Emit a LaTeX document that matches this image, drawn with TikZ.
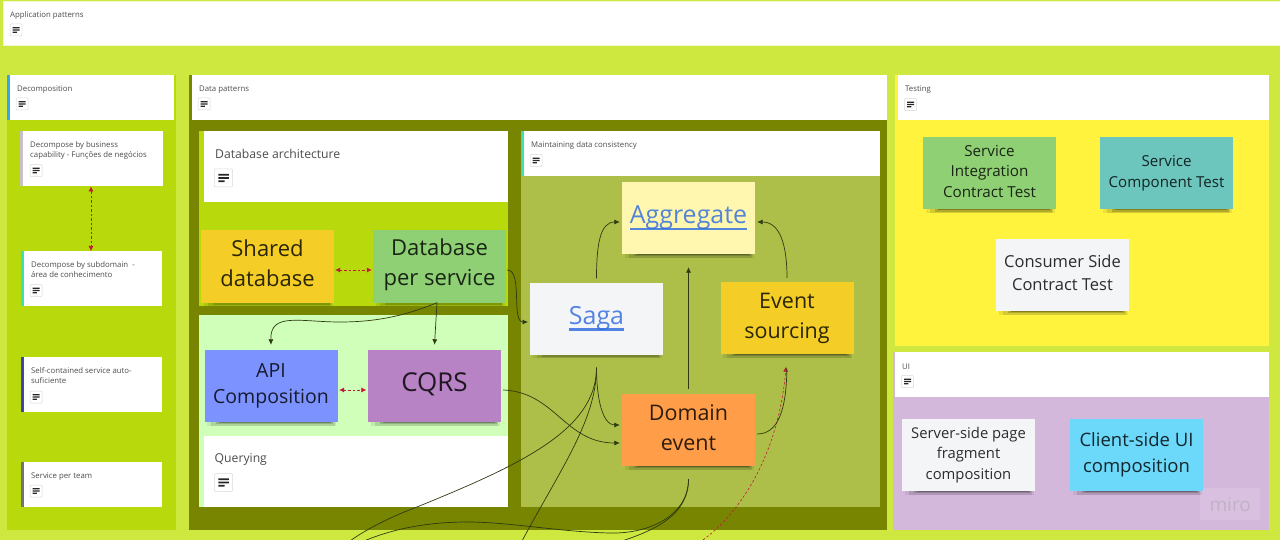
\documentclass[tikz,border=0pt]{standalone}
\usepackage{fontspec}
\setmainfont{Open Sans}
\usetikzlibrary{positioning,shadows,arrows.meta}
\definecolor{boardgreen}{HTML}{CFE83F}
\definecolor{limepanel}{HTML}{B8D90C}
\definecolor{olivepanel}{HTML}{788500}
\definecolor{mosspanel}{HTML}{ADBF48}
\definecolor{mintpanel}{HTML}{CFFFB8}
\definecolor{yellowpanel}{HTML}{FFF33D}
\definecolor{lilacpanel}{HTML}{D4B8DC}
\definecolor{notegold}{HTML}{F4CE26}
\definecolor{notegreen}{HTML}{8FD074}
\definecolor{noteblue}{HTML}{7C93FF}
\definecolor{notepurple}{HTML}{B883C4}
\definecolor{notecream}{HTML}{FFF6B0}
\definecolor{notewhite}{HTML}{F4F5F7}
\definecolor{noteorange}{HTML}{FF9D48}
\definecolor{noteteal}{HTML}{6CC6BE}
\definecolor{notesky}{HTML}{6CD8FA}
\definecolor{linkblue}{HTML}{2F6BE0}
\definecolor{dashred}{HTML}{C2183C}
\definecolor{flowdark}{HTML}{2E3A12}
\definecolor{stripeblue}{HTML}{3AA7E0}
\definecolor{stripemint}{HTML}{3FE0B0}
\definecolor{stripelilac}{HTML}{C9BFC9}
\definecolor{stripenavy}{HTML}{3E46A8}
\newcommand\fsz[2]{\fontsize{#1}{#2}\selectfont}
\newcommand\linktext[1]{\textcolor{linkblue}{\setbox0\hbox{#1}\rlap{\rule[-6pt]{\wd0}{2.2pt}}\box0}}
\tikzset{
  panel/.style={anchor=north west,inner sep=0pt,fill=#1},
  card/.style={anchor=north west,inner sep=0pt,fill=white,path picture={
    \fill[#1] (path picture bounding box.north west) rectangle ([xshift=3pt]path picture bounding box.south west);}},
  title/.style={anchor=west,inner sep=0pt,yshift=-1.5pt,align=left,text=black!70,font=\fsz{7.8}{10}},
  bigtitle/.style={anchor=west,inner sep=0pt,yshift=-1pt,text=black!70,font=\fsz{12.2}{15}},
  softshadow/.style={
    general shadow={fill=black,opacity=.07,shadow scale=.97,shadow xshift=1pt,shadow yshift=-5pt},
    general shadow={fill=black,opacity=.1,shadow scale=.93,shadow xshift=2pt,shadow yshift=-6.5pt},
    general shadow={fill=black,opacity=.16,shadow scale=.88,shadow xshift=4pt,shadow yshift=-7.5pt},
    general shadow={fill=black,opacity=.25,shadow scale=.84,shadow xshift=5pt,shadow yshift=-8pt}},
  sticky/.style={fill=#1,inner sep=0pt,align=center,minimum width=133pt,minimum height=72pt,text=black,text opacity=.82,softshadow},
  flow/.style={draw=flowdark,line width=.7pt,-{Latex[length=5.5pt,width=5pt]}},
  loose/.style={draw=flowdark,line width=.7pt},
  either/.style={draw=dashred,line width=.6pt,dash pattern=on 2.5pt off 2pt,{Latex[length=5pt,width=5pt]}-{Latex[length=5pt,width=5pt]}},
  pics/docicon/.style={code={
    \draw[black!15,fill=white,rounded corners=1pt,line width=.5pt] (-6,-6) rectangle (6,6);
    \fill[black!85] (-3.5,-2.8) rectangle (3.5,-1.6) (-3.5,-.6) rectangle (3.5,.6) (-3.5,1.6) rectangle (.8,2.8);}}
}
\begin{document}
\begin{tikzpicture}[x=1pt,y=-1pt]
\useasboundingbox (0,0) rectangle (1280,540);
\fill[boardgreen] (0,0) rectangle (1280,540);
% top strip
\node[panel=white,draw=boardgreen!25,line width=.6pt,minimum width=1280pt,minimum height=44pt] (apphead) at (3,1) {};
\node[title] (apptitle) at (10,13.5) {Application patterns};
\pic at (16,30) {docicon};
% decomposition
\node[panel=limepanel,minimum width=169pt,minimum height=455pt] (decpanel) at (7,75) {};
\node[card=stripeblue,minimum width=167pt,minimum height=45pt] (dechead) at (7,75) {};
\node[title] (dectitle) at (17,88.5) {Decomposition};
\pic at (22,104) {docicon};
\node[card=stripelilac,minimum width=143pt,minimum height=55pt] (bizcard) at (20,131) {};
\node[title] (biztitle) at (30,149) {Decompose by business\\capability - Funções de negócios};
\pic at (36,170.5) {docicon};
\node[card=stripemint,minimum width=141pt,minimum height=55pt] (subcard) at (21,251) {};
\node[title] (subtitle) at (31,268.5) {Decompose by subdomain \ -\\área de conhecimento};
\pic at (36,290.5) {docicon};
\node[card=stripenavy,minimum width=141pt,minimum height=55pt] (selfcard) at (21,357) {};
\node[title] (selftitle) at (31,374.5) {Self-contained service auto-\\suficiente};
\pic at (36,397) {docicon};
\node[card=black!55,minimum width=141pt,minimum height=45pt] (teamcard) at (21,462) {};
\node[title] (teamtitle) at (31,475.5) {Service per team};
\pic at (36,491) {docicon};
% data patterns
\node[panel=olivepanel,minimum width=698pt,minimum height=455pt] (datapanel) at (189,75) {};
\node[panel=white,minimum width=695pt,minimum height=45pt] (datahead) at (192,75) {};
\node[title] (datatitle) at (199,88.5) {Data patterns};
\pic at (204,104) {docicon};
\node[panel=limepanel,minimum width=309pt,minimum height=175pt] (archpanel) at (199,131) {};
\node[panel=white,minimum width=304pt,minimum height=71pt] (archhead) at (204,131) {};
\node[bigtitle] (archtitle) at (215,152.5) {Database architecture};
\pic[scale=1.5] at (223.5,178) {docicon};
\node[panel=mintpanel,minimum width=309pt,minimum height=192pt] (querypanel) at (199,315) {};
\node[panel=white,minimum width=304pt,minimum height=71pt] (queryhead) at (204,436) {};
\node[bigtitle] (querytitle) at (214.5,458) {Querying};
\pic[scale=1.5] at (223.5,482.5) {docicon};
\node[panel=mosspanel,minimum width=359pt,minimum height=376pt] (conspanel) at (521,131) {};
\node[card=stripemint,minimum width=359pt,minimum height=45pt] (conshead) at (521,131) {};
\node[title] (constitle) at (531,144) {Maintaining data consistency};
\pic at (536,160.5) {docicon};
% testing and ui
\node[panel=yellowpanel,minimum width=374pt,minimum height=271pt] (testpanel) at (895,75) {};
\node[panel=white,minimum width=371pt,minimum height=45pt] (testhead) at (898,75) {};
\node[title] (testtitle) at (905,88.5) {Testing};
\pic at (910.5,104.5) {docicon};
\node[panel=lilacpanel,minimum width=376pt,minimum height=178pt] (uipanel) at (893,352) {};
\node[panel=white,minimum width=374pt,minimum height=45pt] (uihead) at (895,352) {};
\node[title] (uititle) at (902,365.5) {UI};
\pic at (907.5,381.5) {docicon};
\node[anchor=north west,inner sep=0pt,fill=white,fill opacity=.12,text opacity=.5,text=black!35,minimum width=60pt,minimum height=32pt,font=\fsz{19}{22}] (miromark) at (1200,488) {miro};
% notes
\node[sticky=notegold,font=\fsz{22}{30},text depth=6pt] (shareddb) at (267.5,266.5) {Shared\\database};
\node[sticky=notegreen,font=\fsz{22}{30},text depth=8.5pt] (perservice) at (439.5,266.5) {Database\\per service};
\node[sticky=noteblue,font=\fsz{19.5}{26}] (apicomp) at (271,386) {API\\Composition};
\node[sticky=notepurple,font=\fsz{26}{30},text depth=8pt] (cqrs) at (434.5,386) {CQRS};
\node[sticky=notecream,font=\fsz{25}{30}] (aggregate) at (688.5,218) {\linktext{Aggregate}};
\node[sticky=notewhite,font=\fsz{25}{30}] (saga) at (596.5,318.5) {\linktext{Saga}};
\node[sticky=notegold,font=\fsz{21.5}{30}] (eventsrc) at (787,318) {Event\\sourcing};
\node[sticky=noteorange,font=\fsz{21.5}{30},text depth=4pt] (domevent) at (688.5,430) {Domain\\event};
\node[sticky=notegreen,font=\fsz{15.2}{20.5},text depth=5pt] (integration) at (989.5,173.5) {Service\\Integration\\Contract Test};
\node[sticky=noteteal,font=\fsz{15.1}{20.5}] (component) at (1166.5,173.5) {Service\\Component Test};
\node[sticky=notewhite,font=\fsz{16.5}{23},text depth=4pt] (consumer) at (1062.5,275) {Consumer Side\\Contract Test};
\node[sticky=notewhite,font=\fsz{14.8}{20.5}] (serverside) at (968.5,455) {Server-side page\\fragment\\composition};
\node[sticky=notesky,font=\fsz{18.5}{26}] (clientside) at (1136.5,455) {Client-side UI\\composition};
% free ends below the picture
\coordinate (offa) at (350,541);
\coordinate (offb) at (522,541);
\coordinate (offc) at (364,541);
\coordinate (offd) at (622,541);
\coordinate (offe) at (703,540);
% dashed links
\draw[either] (bizcard.south -| 91,0) -- (subcard.north -| 91,0);
\draw[either] ([xshift=1pt,yshift=-3.5pt]shareddb.east) -- ([xshift=-1pt,yshift=-3.5pt]perservice.west);
\draw[either] ([xshift=1.5pt,yshift=-4pt]apicomp.east) -- ([xshift=-1.5pt,yshift=-4pt]cqrs.west);
\draw[draw=dashred,line width=.6pt,dash pattern=on 2.5pt off 2pt,-{Latex[length=5pt,width=5pt]},shorten >=12.5pt] (offe) .. controls (750,505) and (780,440) .. (eventsrc.south);
% flows
\draw[flow,shorten <=1pt] ([yshift=-3.5pt]perservice.east) .. controls (523,270) and (511,322) .. (528,322);
\draw[flow] ([xshift=-2.5pt]perservice.south) .. controls (400,318) and (370,322) .. (340,322) .. controls (300,322) and (270,312) .. ([yshift=5pt]apicomp.north);
\draw[flow] ([xshift=-2.5pt]perservice.south) -- ([yshift=5pt]cqrs.north);
\draw[flow,shorten <=4pt,shorten >=2pt] (saga.north) .. controls (596.5,245) and (600,222) .. ([yshift=-4pt]aggregate.west);
\draw[flow,shorten <=4pt,shorten >=2pt] (eventsrc.north) .. controls (787,245) and (780,222) .. ([yshift=-4pt]aggregate.east);
\draw[flow,shorten <=5pt,shorten >=13pt] (domevent.north) -- (aggregate.south);
\draw[flow,shorten <=13pt,shorten >=2pt] (saga.south) .. controls (596.5,400) and (603,425) .. ([yshift=5pt]domevent.west);
\draw[flow,shorten >=2pt] ([xshift=2pt,yshift=-4pt]cqrs.east) .. controls (555,392) and (565,443) .. ([yshift=-13pt]domevent.west);
\draw[loose,shorten <=13pt] (saga.south) .. controls (596.5,430) and (520,465) .. (417,507) .. controls (390,517) and (365,530) .. (offa);
\draw[loose,shorten <=13pt] (saga.south) .. controls (596.5,420) and (560,470) .. (offb);
\draw[loose,shorten <=13pt] (domevent.south) .. controls (688.5,515) and (650,534) .. (610,533) .. controls (560,532) and (510,522) .. (467,522) .. controls (430,522) and (395,528) .. (offc);
\draw[loose,shorten <=13pt] (domevent.south) .. controls (688.5,515) and (655,530) .. (offd);
\draw[loose,shorten <=2pt,shorten >=14pt] ([yshift=-4pt]domevent.east) .. controls (778,434) and (786.5,410) .. (eventsrc.south);
\end{tikzpicture}
\end{document}
